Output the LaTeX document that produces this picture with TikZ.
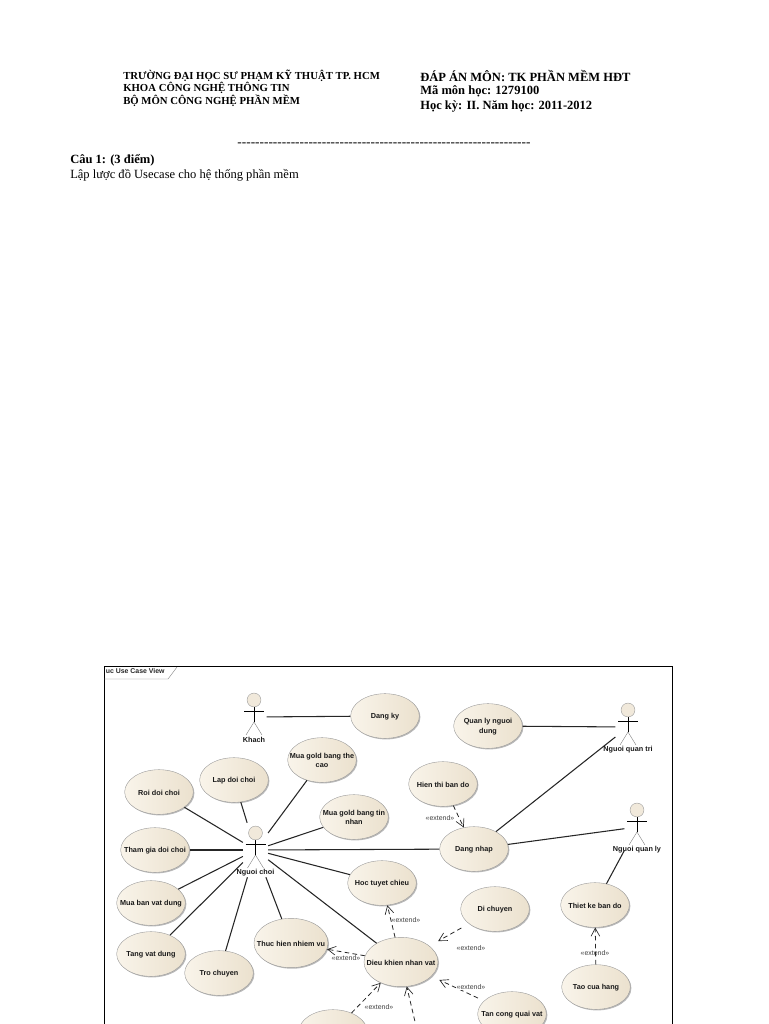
\documentclass[tikz,border=0pt]{standalone}
\usepackage{fontspec}
\setmainfont{Liberation Serif}
\setsansfont{Liberation Sans}
\newfontfamily\plainserif{Liberation Serif}
\usetikzlibrary{shapes.geometric,shadows,arrows.meta}
\definecolor{ucfill}{RGB}{241,233,219}
\definecolor{uclight}{RGB}{249,244,234}
\definecolor{ucdark}{RGB}{235,225,206}
\tikzset{
  usecase/.style={ellipse,draw=gray!80,line width=0.3pt,left color=uclight,right color=ucdark,
    minimum width=51.5pt,minimum height=33.5pt,inner sep=0pt,
    drop shadow={shadow xshift=0.8pt,shadow yshift=-0.8pt,fill=gray,opacity=0.55}},
  usecasewide/.style={usecase,minimum width=55.5pt,minimum height=37pt},
  actorbox/.style={rectangle,minimum width=18.5pt,minimum height=40.5pt,inner sep=0pt},
  assoc/.style={line width=0.8pt,black!85},
  extendline/.style={line width=0.6pt,dashed,dash pattern=on 3.5pt off 2.5pt,black!85,
    -{Straight Barb[length=6pt,width=6.5pt,line width=0.5pt]}},
  uctext/.style={font=\sffamily\bfseries\fontsize{5.45}{7.2}\selectfont,align=center,black!90},
  extendtext/.style={font=\sffamily\fontsize{5.2}{6}\selectfont,black!75,inner sep=0.5pt},
  every label/.style={uctext,yshift=-0.4pt},
  head/.style={font=\bfseries\fontsize{8.05}{9}\selectfont,anchor=west,inner sep=0pt},
  headbig/.style={font=\bfseries\fontsize{9.4}{12}\selectfont,anchor=west,inner sep=0pt},
}
\begin{document}
\begin{tikzpicture}[x=0.75pt,y=-0.75pt]
\useasboundingbox (0,0) rectangle (768,1024);

\node[head] (school) at (123,76) {TRƯỜNG ĐẠI HỌC SƯ PHẠM KỸ THUẬT TP. HCM};
\node[head] (faculty) at (123,88) {KHOA CÔNG NGHỆ THÔNG TIN};
\node[head] (dept) at (123,101) {BỘ MÔN CÔNG NGHỆ PHẦN MỀM};
\node[headbig] (subject) at (420,76.5) {ĐÁP ÁN MÔN: TK PHẦN MỀM HĐT};
\node[headbig] (code) at (420,91) {Mã môn học: 1279100};
\node[headbig] (term) at (420,106.5) {Học kỳ: II. Năm học: 2011-2012};
\node[font=\plainserif\fontsize{10}{12}\selectfont,inner sep=0pt] (rule) at (384,145)
  {------------------------------------------------------------------};
\node[headbig] (question) at (70,160) {Câu 1: (3 điểm)};
\node[headbig,font=\fontsize{9.4}{12}\selectfont] (task) at (70,175) {Lập lược đồ Usecase cho hệ thống phần mềm};

% frame
\draw[line width=0.75pt] (104,1040) -- (104,666) -- (672,666) -- (672,1040);
\draw[line width=0.3pt,gray] (104,679) -- (168,679) -- (177,667);
\node[font=\sffamily\bfseries\fontsize{5.2}{6}\selectfont,anchor=west,inner sep=0pt,black!85] (frametag) at (105.5,671.5) {uc Use Case View};

% use cases
\node[usecase,label=center:{Dang ky}] (dangky) at (385,716) {};
\node[usecase,label=center:{Quan ly nguoi\\dung}] (quanly) at (488,726) {};
\node[usecase,label=center:{Hien thi ban do}] (hienthi) at (443,784) {};
\node[usecase,label=center:{Dang nhap}] (dangnhap) at (474,849) {};
\node[usecase,label=center:{Roi doi choi}] (roidoi) at (159,792) {};
\node[usecase,label=center:{Lap doi choi}] (lapdoi) at (234,780) {};
\node[usecase,label=center:{Mua gold bang the\\cao}] (goldthe) at (322,760) {};
\node[usecase,label=center:{Mua gold bang tin\\nhan}] (goldtin) at (354,817) {};
\node[usecase,label=center:{Tham gia doi choi}] (thamgia) at (155,850) {};
\node[usecase,label=center:{Mua ban vat dung}] (muaban) at (151,903) {};
\node[usecase,label=center:{Tang vat dung}] (tangvat) at (151,954) {};
\node[usecase,label=center:{Tro chuyen}] (trochuyen) at (219,973) {};
\node[usecasewide,label=center:{Thuc hien nhiem vu}] (thuchien) at (291,943) {};
\node[usecase,label=center:{Hoc tuyet chieu}] (hoctuyet) at (382,883) {};
\node[usecasewide,label=center:{Dieu khien nhan vat}] (dieukhien) at (401,962) {};
\node[usecase,label=center:{Di chuyen}] (dichuyen) at (495,909) {};
\node[usecase,label=center:{Thiet ke ban do}] (thietke) at (595,905) {};
\node[usecase,label=center:{Tao cua hang}] (taocua) at (596,987) {};
\node[usecase,label=center:{Tan cong quai vat}] (tancong) at (512,1014) {};
\node[usecase] (offpage) at (333,1032) {};
\coordinate (below) at (424,1060);

% actors
\foreach \name/\x/\y/\lab in {khach/254/717/Khach,choi/255.5/850/Nguoi choi,
  quantri/628/727/Nguoi quan tri,quanlyactor/637/827/Nguoi quan ly}
{
\node[actorbox] (\name) at (\x,\y) {};
\node[uctext,inner sep=0pt] (\name text) at (\x,\y+22.5) {\lab};
\begin{scope}[shift={(\x,\y)}]
\draw[line width=0.3pt,gray] (-8,18) -- (0,5) -- (8,18);
\draw[line width=0.75pt] (-10,-5.5) -- (10,-5.5) (0,-10) -- (0,5);
\draw[line width=0.3pt,gray!80,fill=ucfill] (0,-17) circle (5.2pt);
\end{scope}
}

% associations
\foreach \a/\b in {khach/dangky,quanly/quantri,dangnhap/quantri,dangnhap/quanlyactor,
  thietke/quanlyactor,roidoi/choi,lapdoi/choi,goldthe/choi,goldtin/choi,thamgia/choi,
  muaban/choi,tangvat/choi,trochuyen/choi,thuchien/choi,hoctuyet/choi,dieukhien/choi,
  dangnhap/choi}
\draw[assoc] (\a) -- (\b);

% extends
\foreach \a/\b in {hienthi/dangnhap,dieukhien/thuchien,dieukhien/hoctuyet,taocua/thietke}
\draw[extendline] (\a) -- (\b);
\draw[extendline,shorten <=6.5pt,shorten >=7.5pt] (dichuyen) -- (dieukhien);
\draw[extendline,shorten <=5pt,shorten >=6.5pt] (tancong) -- (dieukhien);
\draw[extendline] (offpage) -- (dieukhien);
\draw[extendline] (below) -- (dieukhien);

\node[extendtext] (ext1) at (440,818) {«extend»};
\node[extendtext] (ext2) at (346,958) {«extend»};
\node[extendtext] (ext3) at (406,920) {«extend»};
\node[extendtext] (ext4) at (471,948) {«extend»};
\node[extendtext,fill=white] (ext5) at (471,987) {«extend»};
\node[extendtext] (ext6) at (595,953) {«extend»};
\node[extendtext] (ext7) at (379,1007) {«extend»};
\end{tikzpicture}
\end{document}
